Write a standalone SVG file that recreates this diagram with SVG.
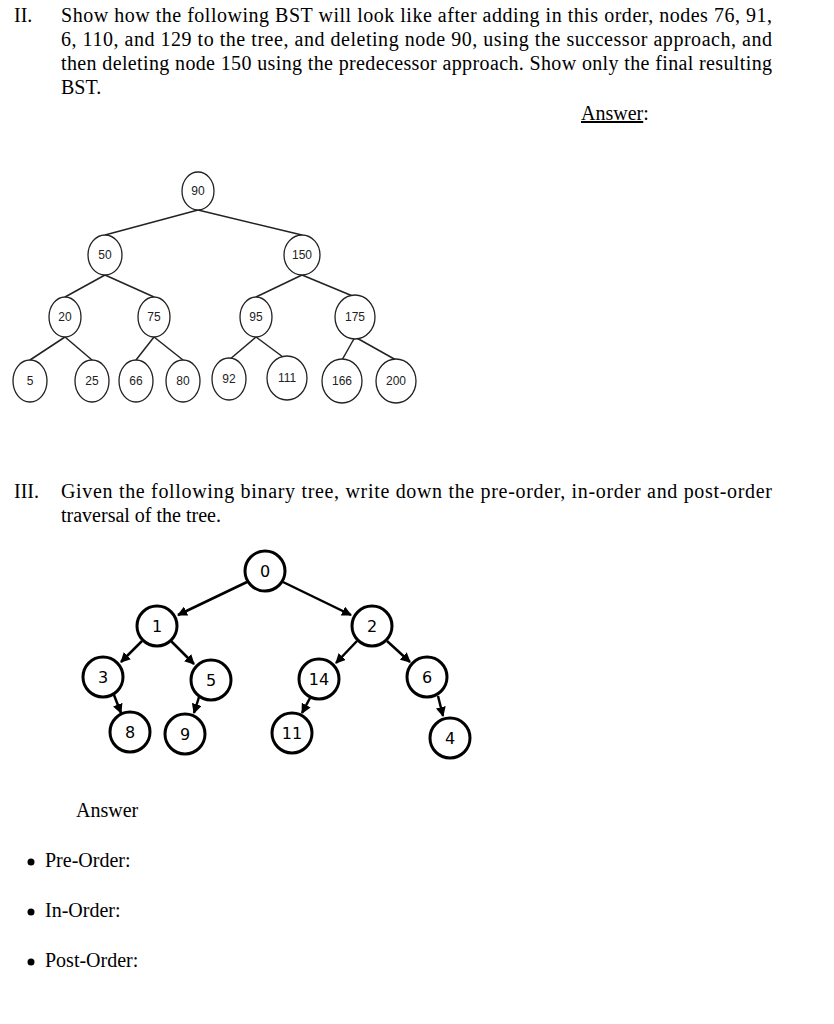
<svg xmlns="http://www.w3.org/2000/svg" width="834" height="1024" viewBox="0 0 834 1024">
<style>
.t{font-family:"Liberation Serif",serif;font-size:20px;fill:#000}
.n ellipse{fill:#fff;stroke:#222;stroke-width:1.3}
.n text{font-family:"Liberation Sans",Arial,sans-serif;font-size:12px;text-anchor:middle;fill:#222}
.m circle{fill:#fff;stroke:#000;stroke-width:3}
.m text{font-family:"DejaVu Sans",sans-serif;font-size:16px;text-anchor:middle;fill:#000}
.e line{stroke:#222;stroke-width:1.5}
.a line{stroke:#000;stroke-width:2.5;marker-end:url(#ar)}
</style>
<defs><marker id="ar" viewBox="0 0 10 10" refX="9" refY="5" markerWidth="4" markerHeight="4" orient="auto"><path d="M0,0L10,5L0,10z" fill="#000"/></marker></defs>
<rect width="834" height="1024" fill="#fff"/>
<text class="t" x="14" y="22">II.</text>
<text class="t" x="61" y="22" textLength="711" lengthAdjust="spacing">Show how the following BST will look like after adding in this order, nodes 76, 91,</text>
<text class="t" x="61" y="46" textLength="711" lengthAdjust="spacing">6, 110, and 129 to the tree, and deleting node 90, using the successor approach, and</text>
<text class="t" x="61" y="70" textLength="711" lengthAdjust="spacing">then deleting node 150 using the predecessor approach. Show only the final resulting</text>
<text class="t" x="61" y="94">BST.</text>
<text class="t" x="581" y="120"><tspan text-decoration="underline">Answer</tspan>:</text>
<g class="e">
<line x1="198" y1="210" x2="105" y2="235"/><line x1="198" y1="210" x2="302" y2="235"/>
<line x1="105" y1="275" x2="65" y2="297"/><line x1="105" y1="275" x2="154" y2="297"/>
<line x1="302" y1="275" x2="256" y2="297"/><line x1="302" y1="275" x2="355" y2="297"/>
<line x1="65" y1="337" x2="30" y2="360"/><line x1="65" y1="337" x2="92" y2="360"/>
<line x1="154" y1="337" x2="136" y2="360"/><line x1="154" y1="337" x2="183" y2="360"/>
<line x1="256" y1="337" x2="229" y2="360"/><line x1="256" y1="337" x2="287" y2="360"/>
<line x1="355" y1="337" x2="342" y2="360"/><line x1="355" y1="337" x2="396" y2="360"/>
</g>
<g class="n">
<g id="b90"><ellipse cx="198" cy="191" rx="16" ry="19"/><text x="198" y="195">90</text></g>
<g id="b50"><ellipse cx="105" cy="255" rx="17" ry="20"/><text x="105" y="259">50</text></g>
<g id="b150"><ellipse cx="302" cy="255" rx="18" ry="20"/><text x="302" y="259">150</text></g>
<g id="b20"><ellipse cx="65" cy="317" rx="16" ry="20"/><text x="65" y="321">20</text></g>
<g id="b75"><ellipse cx="154" cy="317" rx="16" ry="20"/><text x="154" y="321">75</text></g>
<g id="b95"><ellipse cx="256" cy="317" rx="16" ry="20"/><text x="256" y="321">95</text></g>
<g id="b175"><ellipse cx="355" cy="317" rx="20" ry="22"/><text x="355" y="321">175</text></g>
<g id="b5"><ellipse cx="30" cy="381" rx="17" ry="21"/><text x="30" y="385">5</text></g>
<g id="b25"><ellipse cx="92" cy="381" rx="17" ry="21"/><text x="92" y="385">25</text></g>
<g id="b66"><ellipse cx="136" cy="381" rx="17" ry="21"/><text x="136" y="385">66</text></g>
<g id="b80"><ellipse cx="183" cy="381" rx="17" ry="21"/><text x="183" y="385">80</text></g>
<g id="b92"><ellipse cx="229" cy="379" rx="17" ry="21"/><text x="229" y="383">92</text></g>
<g id="b111"><ellipse cx="287" cy="378" rx="20" ry="22"/><text x="287" y="382">111</text></g>
<g id="b166"><ellipse cx="342" cy="381" rx="20" ry="22"/><text x="342" y="385">166</text></g>
<g id="b200"><ellipse cx="396" cy="381" rx="20" ry="22"/><text x="396" y="385">200</text></g>
</g>
<text class="t" x="14" y="498">III.</text>
<text class="t" x="61" y="498" textLength="711" lengthAdjust="spacing">Given the following binary tree, write down the pre-order, in-order and post-order</text>
<text class="t" x="61" y="522">traversal of the tree.</text>
<g class="a">
<line x1="247" y1="582" x2="178" y2="615"/><line x1="283" y1="582" x2="351" y2="615"/>
<line x1="142" y1="641" x2="121" y2="662"/><line x1="171" y1="641" x2="194" y2="664"/>
<line x1="357" y1="641" x2="336" y2="663"/><line x1="387" y1="641" x2="410" y2="662"/>
<line x1="114" y1="695" x2="121" y2="713"/><line x1="199" y1="697" x2="194" y2="713"/>
<line x1="310" y1="698" x2="302" y2="713"/><line x1="438" y1="696" x2="443" y2="716"/>
</g>
<g class="m">
<g id="t0"><circle cx="265" cy="571" r="20"/><text x="265" y="577">0</text></g>
<g id="t1"><circle cx="157" cy="626" r="20"/><text x="157" y="632">1</text></g>
<g id="t2"><circle cx="372" cy="626" r="20"/><text x="372" y="632">2</text></g>
<g id="t3"><circle cx="103" cy="677" r="20"/><text x="103" y="683">3</text></g>
<g id="t5"><circle cx="211" cy="680" r="20"/><text x="211" y="686">5</text></g>
<g id="t14"><circle cx="319" cy="679" r="20"/><text x="319" y="685">14</text></g>
<g id="t6"><circle cx="427" cy="677" r="20"/><text x="427" y="683">6</text></g>
<g id="t8"><circle cx="130" cy="732" r="20"/><text x="130" y="738">8</text></g>
<g id="t9"><circle cx="185" cy="734" r="20"/><text x="185" y="740">9</text></g>
<g id="t11"><circle cx="292" cy="733" r="20"/><text x="292" y="739">11</text></g>
<g id="t4"><circle cx="450" cy="738" r="20"/><text x="450" y="744">4</text></g>
</g>
<text class="t" x="76" y="817">Answer</text>
<circle cx="31" cy="862" r="3.5" fill="#000"/><text class="t" x="45" y="867">Pre-Order:</text>
<circle cx="31" cy="912" r="3.5" fill="#000"/><text class="t" x="45" y="917">In-Order:</text>
<circle cx="31" cy="962" r="3.5" fill="#000"/><text class="t" x="45" y="967">Post-Order:</text>
</svg>
